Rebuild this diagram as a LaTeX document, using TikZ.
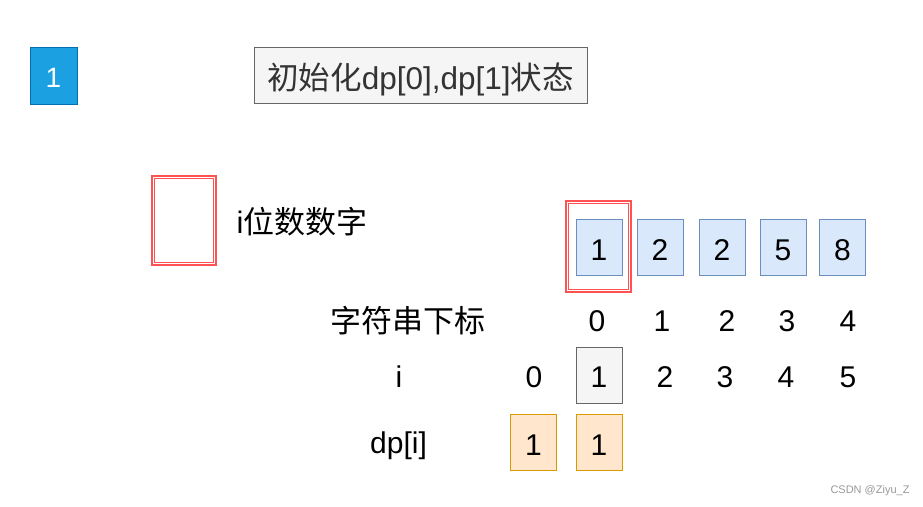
\documentclass[tikz,border=0pt]{standalone}
\usepackage{fontspec}
\setmainfont{Liberation Sans}
\newfontfamily\cjk{Noto Sans CJK SC}
\definecolor{numfill}{HTML}{1BA1E2}
\definecolor{numdraw}{HTML}{006EAF}
\definecolor{grayfill}{HTML}{F5F5F5}
\definecolor{graydraw}{HTML}{666666}
\definecolor{titletext}{HTML}{333333}
\definecolor{bluefill}{HTML}{DAE8FC}
\definecolor{bluedraw}{HTML}{6C8EBF}
\definecolor{orfill}{HTML}{FFE6CC}
\definecolor{ordraw}{HTML}{D79B00}
\definecolor{redline}{HTML}{FF5252}
\definecolor{wmark}{HTML}{999999}
\tikzset{
  big/.style={font=\fontsize{30}{36}\selectfont},
  txt/.style={big, inner sep=0pt},
  cell/.style={big, draw, line width=1pt, minimum width=46pt, minimum height=56pt, inner sep=0pt, text height=25pt, text depth=0pt},
  bluecell/.style={cell, fill=bluefill, draw=bluedraw},
  graycell/.style={cell, fill=grayfill, draw=graydraw},
  orcell/.style={cell, fill=orfill, draw=ordraw},
  redframe/.style={draw=redline, double=white, double distance=1.2pt, line width=1.6pt, inner sep=0pt}
}
\begin{document}
\begin{tikzpicture}[x=1pt,y=-1pt]
\useasboundingbox (0,0) rectangle (923,506);
\fill[white] (0,0) rectangle (923,506);
% step badge
\node[draw=numdraw, fill=numfill, line width=1pt, minimum width=47pt, minimum height=57pt, inner sep=0pt, text=white, font=\fontsize{28}{34}\selectfont, text height=23pt, text depth=0pt] (badge) at (53.5,75.5) {1};
% title
\node[draw=graydraw, fill=grayfill, line width=1pt, minimum width=333pt, minimum height=56pt, inner sep=0pt, text=titletext, font=\fontsize{31.5}{38}\selectfont, text height=28pt, text depth=0pt] (title) at (420.5,75) {{\cjk 初始化}dp[0],dp[1]{\cjk 状态}};
% legend
\node[redframe, minimum width=61.6pt, minimum height=86.6pt] (legend) at (184,220.5) {};
\node[txt, font=\fontsize{31}{37}\selectfont] (legendtxt) at (302,222) {i{\cjk 位数数字}};
% digits
\node[redframe, minimum width=62.6pt, minimum height=88.6pt] (sel) at (598.5,246.5) {};
\node[bluecell] (d0) at (599,247.5) {1};
\node[bluecell] (d1) at (660,247.5) {2};
\node[bluecell] (d2) at (722,247.5) {2};
\node[bluecell] (d3) at (783,247.5) {5};
\node[bluecell] (d4) at (842.5,247.5) {8};
% index row
\node[txt, font=\fontsize{31}{37}\selectfont] (idxlbl) at (408,321) {\cjk 字符串下标};
\node[txt] (x0) at (597,321) {0};
\node[txt] (x1) at (662,321) {1};
\node[txt] (x2) at (727,321) {2};
\node[txt] (x3) at (787,321) {3};
\node[txt] (x4) at (848,321) {4};
% i row
\node[txt] (ilbl) at (399,377) {i};
\node[txt] (i0) at (534,377) {0};
\node[graycell] (i1) at (599,375) {1};
\node[txt] (i2) at (665,377) {2};
\node[txt] (i3) at (725,377) {3};
\node[txt] (i4) at (786,377) {4};
\node[txt] (i5) at (848,377) {5};
% dp row
\node[txt] (dplbl) at (398.5,446) {dp[i]};
\node[orcell] (dp0) at (533.5,442.5) {1};
\node[orcell] (dp1) at (599,442.5) {1};
% watermark
\node[inner sep=0pt, text=wmark, font=\fontsize{11}{13}\selectfont] (wm) at (870,491) {CSDN @Ziyu\_Z};
\end{tikzpicture}
\end{document}
